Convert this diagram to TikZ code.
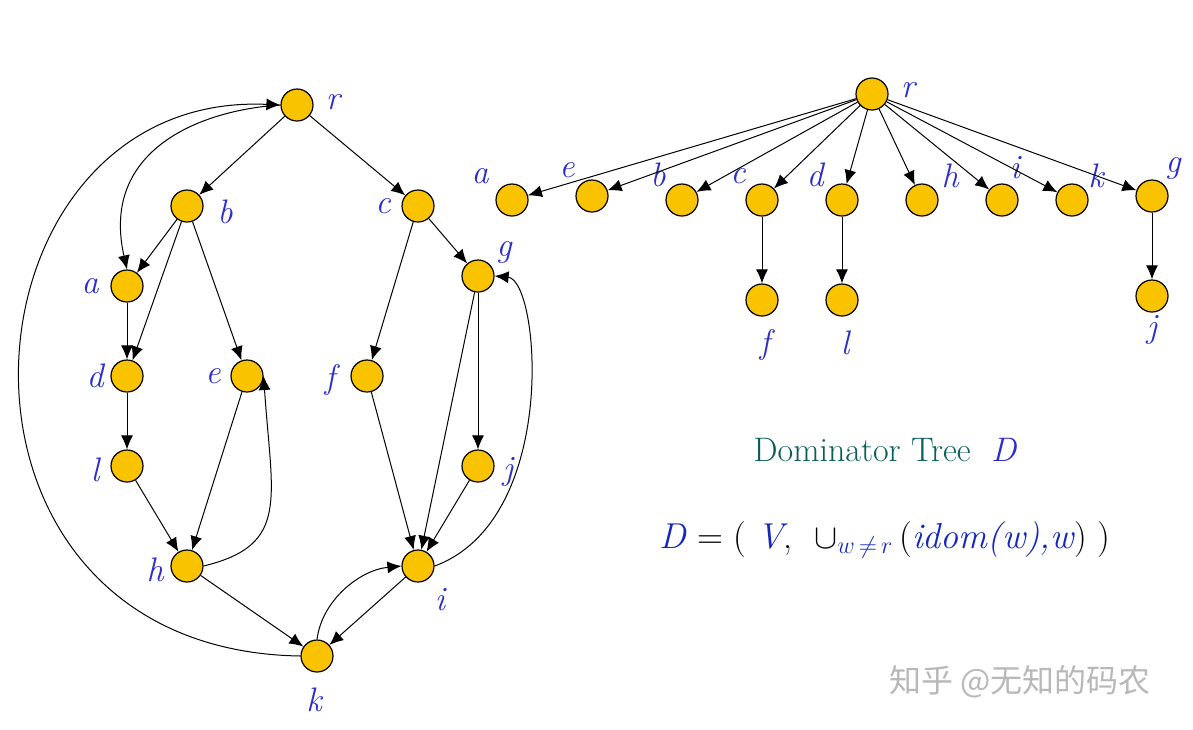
\documentclass[tikz,border=0pt]{standalone}
\usepackage{fontspec}
\newfontfamily\cjk{Noto Sans CJK SC}
\usetikzlibrary{arrows.meta}
\definecolor{nodeyel}{RGB}{250,195,0}
\definecolor{lblue}{RGB}{45,45,205}
\definecolor{fblue}{RGB}{20,40,190}
\definecolor{teal2}{RGB}{10,95,90}
\tikzset{
 v/.style={circle,draw=black,fill=nodeyel,minimum size=16pt,inner sep=0pt,line width=0.6pt},
 lb/.style={text=lblue,font=\fontsize{17}{17}\selectfont\itshape,inner sep=0pt},
 e/.style={-{Latex[length=7pt,width=6pt]},line width=0.5pt},
}
\begin{document}
\begin{tikzpicture}[x=0.5pt,y=-0.5pt]
\useasboundingbox (0,0) rectangle (1193,729);
% left graph
\node[v] (r) at (297,105) {};
\node[v] (b) at (187,206) {};
\node[v] (c) at (418,206) {};
\node[v] (a) at (127,286) {};
\node[v] (g) at (478,276) {};
\node[v] (d) at (127,376) {};
\node[v] (e) at (247,376) {};
\node[v] (f) at (367,376) {};
\node[v] (l) at (127,466) {};
\node[v] (j) at (478,466) {};
\node[v] (h) at (187,566) {};
\node[v] (i) at (418,566) {};
\node[v] (k) at (317,656) {};
\node[lb] (tr) at (333,102) {r};
\node[lb] (tb) at (225,212) {b};
\node[lb] (tc) at (383,206) {c};
\node[lb] (ta) at (90,286) {a};
\node[lb] (tg) at (504,252) {g};
\node[lb] (td) at (95,376) {d};
\node[lb] (te) at (213,376) {e};
\node[lb] (tf) at (330,380) {f};
\node[lb] (tl) at (95,470) {l};
\node[lb] (tj) at (508,472) {j};
\node[lb] (th) at (155,570) {h};
\node[lb] (ti) at (440,600) {i};
\node[lb] (tk) at (314,700) {k};
\draw[e] (r) -- (b);
\draw[e] (r) -- (c);
\draw[e] (b) -- (a);
\draw[e] (b) -- (d);
\draw[e] (b) -- (e);
\draw[e] (a) -- (d);
\draw[e] (c) -- (f);
\draw[e] (c) -- (g);
\draw[e] (d) -- (l);
\draw[e] (e) -- (h);
\draw[e] (l) -- (h);
\draw[e] (g) -- (i);
\draw[e] (g) -- (j);
\draw[e] (f) -- (i);
\draw[e] (j) -- (i);
\draw[e] (h) -- (k);
\draw[e] (i) -- (k);
\draw[e] (k.north) .. controls (322,600) and (360,570) .. (i.west);
\draw[e] (h.east) .. controls (290,545) and (272,500) .. (e.east);
\draw[e] (i.east) .. controls (560,520) and (540,280) .. (g.east);
\draw[e] (r.west) .. controls (200,110) and (100,150) .. (a.north);
\draw[e] (k.west) .. controls (-90,650) and (-50,90) .. (r.west);
% dominator tree
\node[v] (R) at (872,94) {};
\node[v] (A) at (512,200) {};
\node[v] (E) at (592,196) {};
\node[v] (B) at (682,200) {};
\node[v] (C) at (762,200) {};
\node[v] (D) at (842,200) {};
\node[v] (H) at (922,200) {};
\node[v] (I) at (1002,200) {};
\node[v] (K) at (1072,200) {};
\node[v] (G) at (1152,196) {};
\node[v] (F) at (762,300) {};
\node[v] (L) at (842,300) {};
\node[v] (J) at (1152,296) {};
\node[lb] (tR) at (908,90) {r};
\node[lb] (tA) at (480,176) {a};
\node[lb] (tE) at (567,170) {e};
\node[lb] (tB) at (658,175) {b};
\node[lb] (tC) at (738,176) {c};
\node[lb] (tD) at (815,175) {d};
\node[lb] (tH) at (950,176) {h};
\node[lb] (tI) at (1015,168) {i};
\node[lb] (tK) at (1096,176) {k};
\node[lb] (tG) at (1173,168) {g};
\node[lb] (tF) at (765,345) {f};
\node[lb] (tL) at (845,343) {l};
\node[lb] (tJ) at (1152,330) {j};
\foreach \n in {A,E,B,C,D,H,I,K,G} \draw[e] (R) -- (\n);
\draw[e] (C) -- (F);
\draw[e] (D) -- (L);
\draw[e] (G) -- (J);
% texts
\node[font=\fontsize{17}{17}\selectfont,inner sep=0pt] (title) at (885,450) {\textcolor{teal2}{Dominator Tree}\ \ \textcolor{lblue}{\itshape D}};
\node[font=\fontsize{18}{18}\selectfont,inner sep=0pt] (form) at (885,540)
 {\textcolor{fblue}{\itshape D} = ( \textcolor{fblue}{\itshape V}, \ $\cup_{\textcolor{fblue}{w\,\ne\,r}}$\,(\textcolor{fblue}{\itshape idom(w),w}) )};
\node[font=\cjk\fontsize{16}{16}\selectfont,text=black!28,inner sep=0pt] (wm) at (1020,682) {知乎 @无知的码农};
\end{tikzpicture}
\end{document}
